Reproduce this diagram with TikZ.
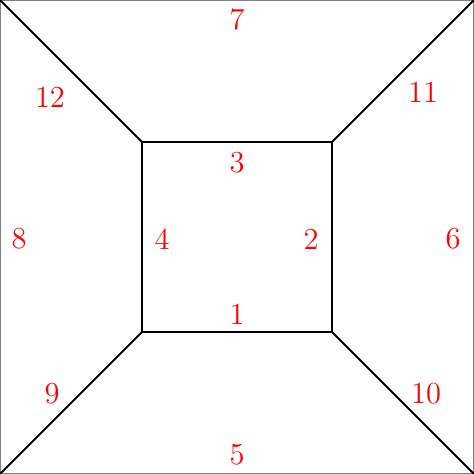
\documentclass[tikz,border=0pt]{standalone}
\usepackage{tikz}
\usetikzlibrary{positioning}

\begin{document}
\begin{tikzpicture}[
      x=0.12658mm, y=-0.12658mm,
      frame/.style={draw=black!50, line width=0.5pt},
      edge/.style={draw=black, line width=0.75pt},
      face/.style={text=red, font=\fontsize{11}{13}\selectfont, inner sep=0pt},
    ]
    \useasboundingbox (0,0) rectangle (474,474);
    % corners
    \coordinate (o1) at (0,0);
    \coordinate (o2) at (474,0);
    \coordinate (o3) at (474,474);
    \coordinate (o4) at (0,474);
    \coordinate (i1) at (142,142);
    \coordinate (i2) at (332,142);
    \coordinate (i3) at (332,332);
    \coordinate (i4) at (142,332);
    \draw[frame] (o1) -- (o2) -- (o3) -- (o4) -- cycle;
    \draw[edge] (i1) -- (i2) -- (i3) -- (i4) -- cycle;
    \draw[edge] (o1) -- (i1);
    \draw[edge] (o2) -- (i2);
    \draw[edge] (o3) -- (i3);
    \draw[edge] (o4) -- (i4);
    % face labels
    \node (f1) [face] at (237,314) {1};
    \node (f2) [face] at (311,239) {2};
    \node (f3) [face] at (237,163) {3};
    \node (f4) [face] at (162,239) {4};
    \node (f5) [face] at (237,455) {5};
    \node (f6) [face] at (453,239) {6};
    \node (f7) [face] at (237,20) {7};
    \node (f8) [face] at (19,239) {8};
    \node (f9) [face] at (52,394) {9};
    \node (f10) [face] at (426,394) {10};
    \node (f11) [face] at (423,92) {11};
    \node (f12) [face] at (50,97) {12};
\end{tikzpicture}
\end{document}
